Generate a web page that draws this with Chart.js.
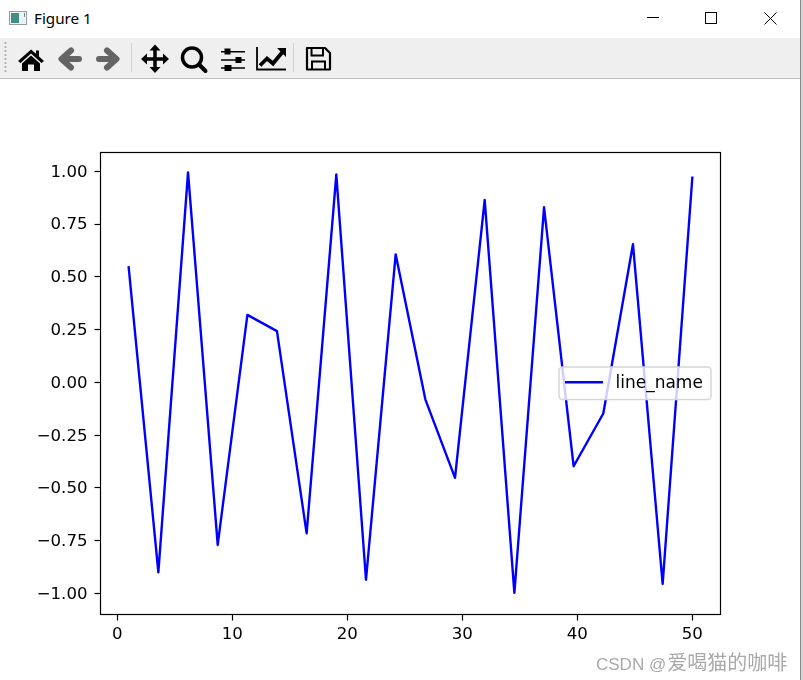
<!DOCTYPE html>
<html>
<head>
<meta charset="utf-8">
<title>Figure 1</title>
<script src="https://cdn.jsdelivr.net/npm/chart.js@4/dist/chart.umd.min.js"></script>
<style>
  html, body { margin: 0; padding: 0; background: #fff; }
  #page { position: relative; width: 803px; height: 680px; overflow: hidden; background: #fff; }
  #title { position: absolute; left: 34px; top: 9px; font: 15.2px "Noto Sans", "Liberation Sans", sans-serif; color: #000; line-height: 19px; }
  #toolbar { position: absolute; left: 0; top: 38px; width: 800px; height: 40px; background: #efefef; }
  #toolbarline { position: absolute; left: 0; top: 78px; width: 800px; height: 1px; background: #bdbdbd; }
  #edge { position: absolute; left: 800px; top: 0; width: 1px; height: 680px; background: #8a8a8a; }
  #edge2 { position: absolute; left: 801px; top: 0; width: 2px; height: 680px; background: #d4d4d4; }
  #icons { position: absolute; left: 0; top: 0; }
  #wrap { position: absolute; left: 0; top: 79px; width: 800px; height: 601px; }
  #mark { position: absolute; left: 596px; top: 647px; font: 17px "Liberation Sans", sans-serif; color: #a9a9a9; line-height: 24px; white-space: nowrap; }
  #mark span { font: 20px "Noto Sans CJK SC", sans-serif; margin-left: 1px; }
</style>
</head>
<body>
<div id="page">
  <div id="title">Figure 1</div>
  <div id="toolbar"></div>
  <div id="toolbarline"></div>
  <div id="edge"></div>
  <div id="edge2"></div>
  <div id="wrap"><canvas id="chart"></canvas></div>
  <svg id="icons" width="803" height="79" xmlns="http://www.w3.org/2000/svg">
    <!-- window icon and buttons -->
    <rect x="9.500" y="11.500" width="17" height="13" fill="#eef2f2" stroke="#9a9aa0"/>
    <rect x="11" y="13" width="8" height="10" fill="#3f8f86"/>
    <rect x="24" y="13" width="1" height="4" fill="#5a8f8a"/>
    <path d="M647 17.500H659" stroke="#000"/>
    <rect x="705.500" y="12.500" width="11" height="11" fill="none" stroke="#000"/>
    <path d="M764.500 12.500L776.500 24.500M776.500 12.500L764.500 24.500" stroke="#000"/>
    <!-- grip -->
    <path d="M5.500 42V74" stroke="#b4b4b4" stroke-width="2" stroke-dasharray="2 2"/>
    <!-- separators -->
    <path d="M131.500 43V72M293.500 43V72" stroke="#d0d0d0"/>
    <!-- home -->
    <path d="M31 49.500L18 61L20.500 63L31 53.500L41.500 63L44 61L39 56.500V50.500H36V53.700Z" fill="#000"/>
    <path d="M22 63.500L31 55.500L40 63.500V71H34V64.500H28V71H22Z" fill="#000"/>
    <!-- back, forward -->
    <path d="M79 59H64M71 50.500L61.500 59L71 67.500" fill="none" stroke="#646464" stroke-width="6" stroke-linecap="round" stroke-linejoin="round"/>
    <path d="M99 59H114M107 50.500L116.500 59L107 67.500" fill="none" stroke="#646464" stroke-width="6" stroke-linecap="round" stroke-linejoin="round"/>
    <!-- pan -->
    <path d="M155 48V70M144 59H166" stroke="#000" stroke-width="3.500"/>
    <path d="M155 44.500L160.500 50.500H149.500ZM155 73L160.500 67H149.500ZM141 59L147 53.500V64.500ZM169 59L163 53.500V64.500Z" fill="#000"/>
    <!-- zoom -->
    <circle cx="192" cy="57.500" r="9.500" fill="none" stroke="#000" stroke-width="3.500"/>
    <path d="M199 64.500L205.500 71" stroke="#000" stroke-width="4" stroke-linecap="round"/>
    <!-- subplots -->
    <path d="M221 51.700H245M221 60H245M221 68H245" stroke="#000" stroke-width="1.600"/>
    <rect x="224.500" y="48.500" width="6" height="6" fill="#000"/>
    <rect x="235.500" y="57" width="6" height="6" fill="#000"/>
    <rect x="224.500" y="65" width="7" height="6" fill="#000"/>
    <!-- edit axes -->
    <path d="M257 47V69.500H286" fill="none" stroke="#000" stroke-width="1.800"/>
    <path d="M260 65.500L267 58.500L273 63.500L282.500 52" fill="none" stroke="#000" stroke-width="3.800"/>
    <path d="M277 48H286V57Z" fill="#000"/>
    <!-- save -->
    <path d="M307 48H325L330 53V69.500H307Z" fill="none" stroke="#000" stroke-width="2.200" stroke-linejoin="round"/>
    <path d="M311.500 48V55.500H323V48M312 69V61.500H325V69" fill="none" stroke="#000" stroke-width="2"/>
  </svg>
  <div id="mark">CSDN @<span>爱喝猫的咖啡</span></div>
</div>
<script>
const xValues = [1, 3.58, 6.16, 8.74, 11.32, 13.89, 16.47, 19.05, 21.63, 24.21, 26.79, 29.37, 31.95, 34.53, 37.11, 39.68, 42.26, 44.84, 47.42, 50];
const yValues = [0.545, -0.9, 0.995, -0.77, 0.32, 0.243, -0.715, 0.985, -0.935, 0.607, -0.08, -0.452, 0.865, -0.997, 0.83, -0.397, -0.147, 0.655, -0.955, 0.97];
const seriesName = 'line_name';
const xTicks = [0, 10, 20, 30, 40, 50];
const yTicks = [1, 0.75, 0.5, 0.25, 0, -0.25, -0.5, -0.75, -1];
const yTickLabels = ['1.00', '0.75', '0.50', '0.25', '0.00', '\u22120.25', '\u22120.50', '\u22120.75', '\u22121.00'];

const font = { family: '"DejaVu Sans"', size: 16.6 };

const frame = {
  id: 'frame',
  beforeDatasetsDraw(chart) {
    const c = chart.ctx;
    c.save();
    c.strokeStyle = '#000';
    c.lineWidth = 1.2;
    c.strokeRect(100.5, 73.5, 620, 462);
    c.restore();
  }
};

// matplotlib style legend box inside the axes
const lineLegend = {
  id: 'lineLegend',
  afterDatasetsDraw(chart) {
    const c = chart.ctx, ds = chart.data.datasets[0];
    c.save();
    c.beginPath();
    c.roundRect(559, 288, 152, 32.5, 3.5);
    c.fillStyle = 'rgba(255,255,255,0.8)';
    c.fill();
    c.strokeStyle = '#d5d5d5';
    c.lineWidth = 1.4;
    c.stroke();
    c.strokeStyle = ds.borderColor;
    c.lineWidth = ds.borderWidth;
    c.beginPath();
    c.moveTo(565, 303.3);
    c.lineTo(603, 303.3);
    c.stroke();
    c.fillStyle = '#000';
    c.font = '17px "DejaVu Sans"';
    c.textBaseline = 'middle';
    c.fillText(ds.label, 615.5, 304.5);
    c.restore();
  }
};

new Chart(document.getElementById('chart'), {
  type: 'line',
  data: {
    datasets: [{
      label: seriesName,
      data: xValues.map((x, i) => ({ x, y: yValues[i] })),
      borderColor: '#0000ff',
      borderWidth: 2.4,
      pointRadius: 0,
      tension: 0,
      fill: false,
      borderCapStyle: 'square',
      borderJoinStyle: 'round'
    }]
  },
  options: {
    responsive: true,
    maintainAspectRatio: false,
    animation: false,
    layout: { padding: { left: 0, top: 73.5, right: 79.5, bottom: 0 } },
    plugins: { legend: { display: false }, tooltip: { enabled: false } },
    scales: {
      x: {
        type: 'linear',
        min: -1.45,
        max: 52.45,
        afterBuildTicks: s => { s.ticks = xTicks.map(value => ({ value })); },
        afterFit: s => { s.height = 65.5; },
        grid: { drawOnChartArea: false, tickLength: 6, tickColor: '#000', tickWidth: 1.2 },
        border: { display: false },
        ticks: { font, color: '#000', padding: 4, maxRotation: 0, callback: v => String(v) }
      },
      y: {
        min: -1.0995,
        max: 1.0895,
        afterBuildTicks: s => { s.ticks = yTicks.map(value => ({ value })); },
        afterFit: s => { s.width = 100.5; },
        grid: { drawOnChartArea: false, tickLength: 6, tickColor: '#000', tickWidth: 1.2 },
        border: { display: false },
        ticks: { font, color: '#000', padding: 7, labelOffset: 1, callback: v => yTickLabels[yTicks.indexOf(v)] }
      }
    }
  },
  plugins: [frame, lineLegend]
});
</script>
</body>
</html>
